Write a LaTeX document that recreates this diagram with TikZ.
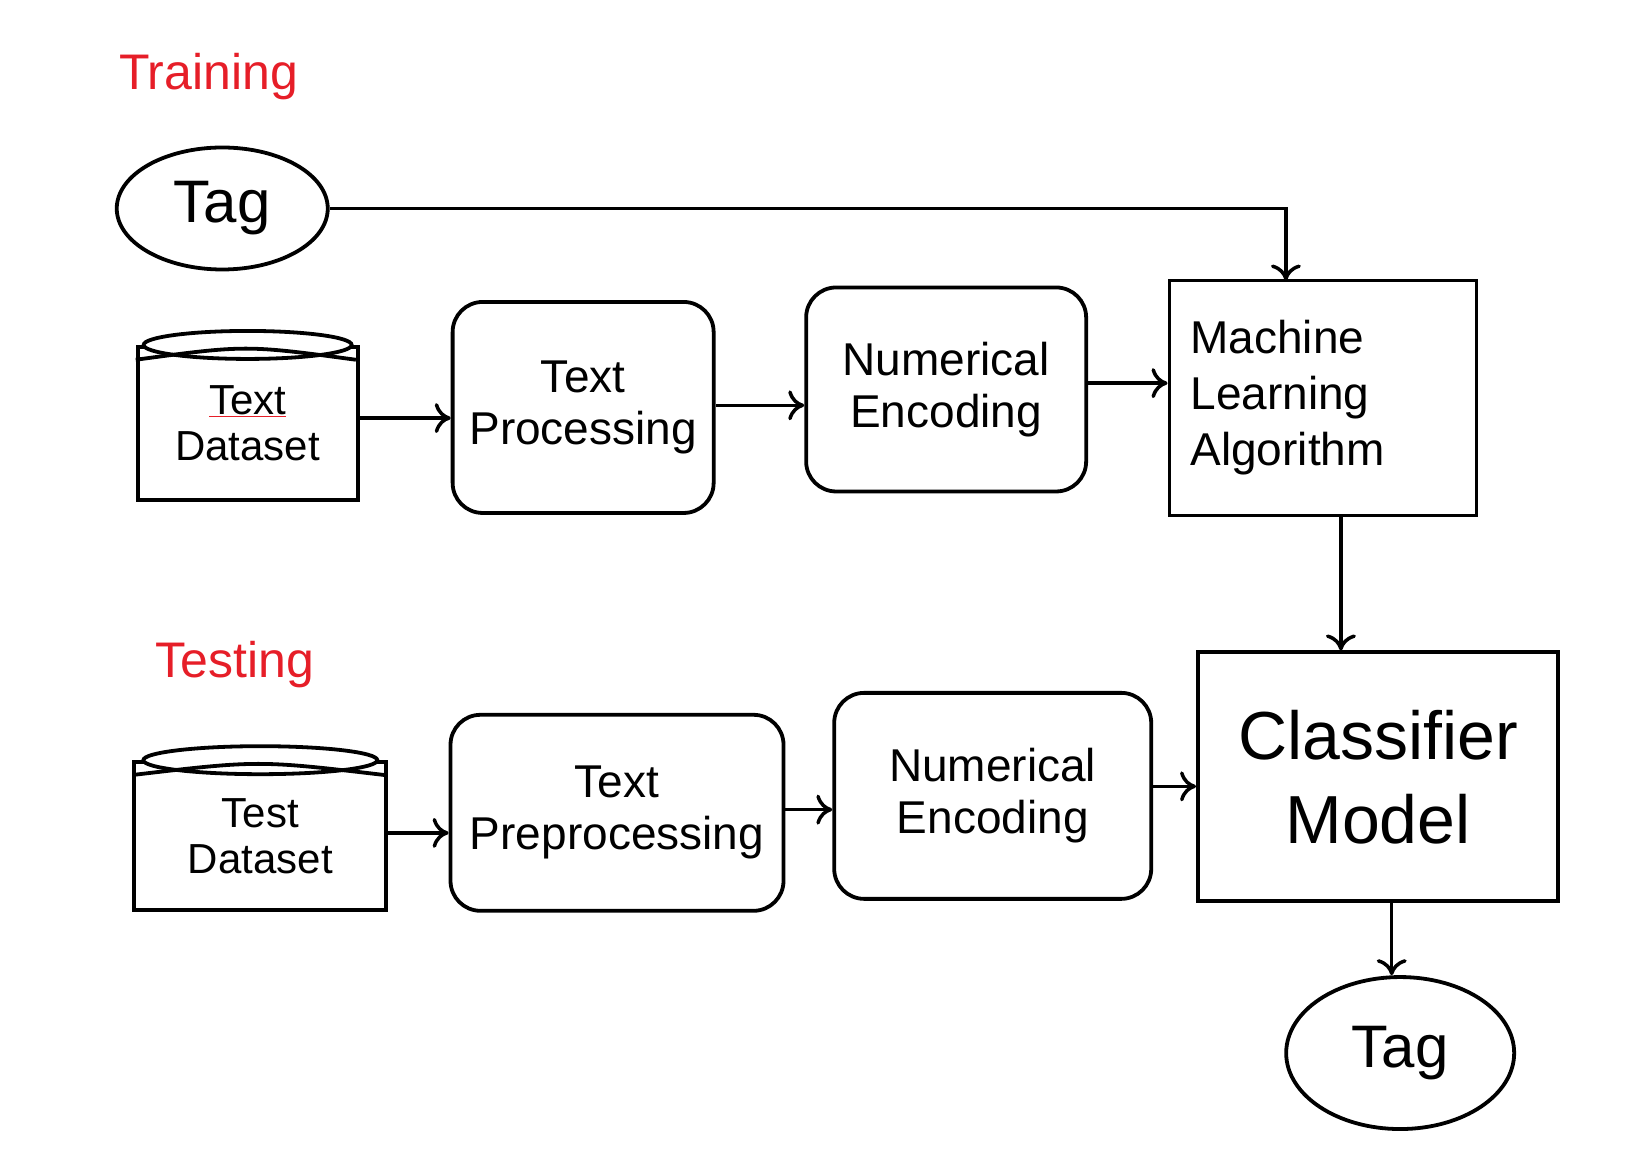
\documentclass[tikz,border=0pt]{standalone}
\usepackage{fontspec}
\setmainfont{Liberation Sans}
\usetikzlibrary{shapes.geometric,arrows.meta}
\definecolor{hred}{RGB}{230,30,40}
\begin{document}
\begin{tikzpicture}[x=1.0583pt,y=-1.0583pt,
  line width=3.8pt,
  box/.style={draw,rounded corners=30pt,align=center,font=\fontsize{46}{52}\selectfont,inner sep=0pt},
  sq/.style={draw,align=left,font=\fontsize{46}{56}\selectfont,inner sep=0pt},
  db/.style={draw,align=center,font=\fontsize{42}{46}\selectfont,inner sep=0pt},
  oval/.style={draw,ellipse,font=\fontsize{60}{64}\selectfont,inner sep=0pt},
  lab/.style={text=hred,font=\fontsize{50}{54}\selectfont},
  arr/.style={-{To[length=16pt,width=30pt]},line width=3.5pt}]
\useasboundingbox (0,0) rectangle (1560,1092);
\node[lab] (tr) at (197,72) {Training};
\node[lab] (te) at (222,628) {Testing};
\node[oval,minimum width=211pt,minimum height=122pt] (tag1) at (210,197) {Tag};
% text dataset
\node[db,minimum width=220pt,minimum height=153pt] (ds1) at (234,400) {{\color{hred}\underline{\color{black}Text}}\\Dataset};
\draw[fill=white] (ds1.north) ellipse (104pt and 14pt);
\draw (ds1.north west)++(0,14) .. controls +(104,-14) .. ++(208,0);
\node[box,minimum width=261pt,minimum height=211pt] (tp1) at (551,385) {Text\\Processing};
\node[box,minimum width=280pt,minimum height=204pt] (ne1) at (894,368) {Numerical\\Encoding};
\node[sq,minimum width=307pt,minimum height=235pt,text width=265pt] (ml) at (1250,376) {Machine\\Learning\\Algorithm};
\node[sq,minimum width=360pt,minimum height=249pt,text width=300pt,font=\fontsize{68}{84}\selectfont,align=center] (cm) at (1302,734) {Classifier\\Model};
\node[oval,minimum width=228pt,minimum height=152pt] (tag2) at (1323,995) {Tag};
\node[db,minimum width=252pt,minimum height=148pt] (ds2) at (246,790) {Test\\Dataset};
\draw[fill=white] (ds2.north) ellipse (117pt and 14pt);
\draw (ds2.north west)++(0,14) .. controls +(119,-14) .. ++(238,0);
\node[box,minimum width=333pt,minimum height=196pt] (tp2) at (583,768) {Text\\Preprocessing};
\node[box,minimum width=317pt,minimum height=206pt] (ne2) at (938,752) {Numerical\\Encoding};
\draw[arr] (tag1.east) -| (1215,265);
\draw[arr] (ds1.east |- 0,395) -- (tp1.west |- 0,395);
\draw[arr] (tp1.east |- 0,383) -- (ne1.west |- 0,383);
\draw[arr] (ne1.east |- 0,362) -- (ml.west |- 0,362);
\draw[arr] (ml.south -| 1267,0) -- (cm.north -| 1267,0);
\draw[arr] (ds2.east |- 0,787) -- (tp2.west |- 0,787);
\draw[arr] (tp2.east |- 0,765) -- (ne2.west |- 0,765);
\draw[arr] (ne2.east |- 0,743) -- (cm.west |- 0,743);
\draw[arr] (cm.south -| 1315,0) -- (tag2.north -| 1315,0);
\end{tikzpicture}
\end{document}
